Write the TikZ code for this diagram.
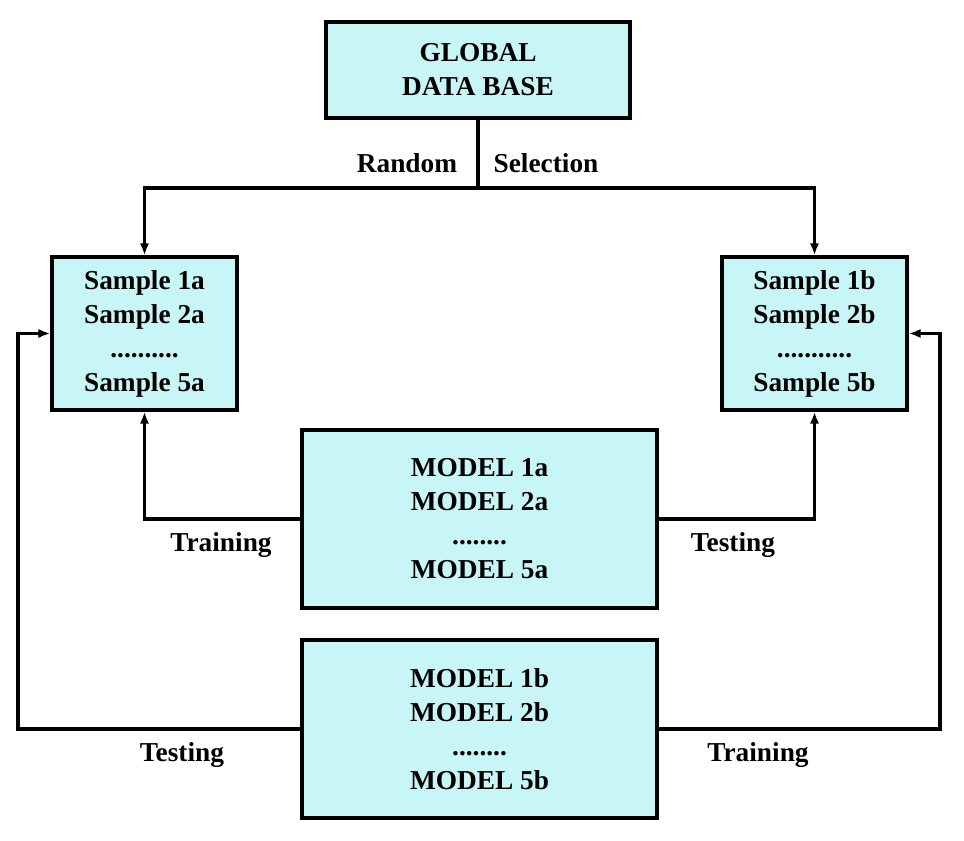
\documentclass[tikz,border=0pt]{standalone}
\usepackage{fontspec}
\setmainfont{Liberation Serif}
\usetikzlibrary{arrows.meta}
\definecolor{boxfill}{RGB}{200,245,245}
\begin{document}
\begin{tikzpicture}[x=0.75pt,y=-0.75pt,
  box/.style={draw,line width=2.6pt,fill=boxfill,inner sep=0pt,align=center,font=\fontsize{20.5}{25.5}\selectfont\bfseries},
  lbl/.style={font=\fontsize{20.5}{24}\selectfont\bfseries},
  conn/.style={line width=2.4pt,-{Latex[length=9pt,width=7pt]}},
  line/.style={line width=2.4pt}]
\useasboundingbox (0,0) rectangle (964,841);
\node[box,minimum width=304*0.75pt,minimum height=96*0.75pt] (g) at (478,70) {GLOBAL\\DATA BASE};
\node[box,minimum width=185*0.75pt,minimum height=153*0.75pt] (sa) at (144.5,333.5) {Sample 1a\\Sample 2a\\..........\\Sample 5a};
\node[box,minimum width=185*0.75pt,minimum height=153*0.75pt] (sb) at (814.5,333.5) {Sample 1b\\Sample 2b\\...........\\Sample 5b};
\node[box,minimum width=355*0.75pt,minimum height=178*0.75pt] (ma) at (479.5,519) {MODEL 1a\\MODEL 2a\\........\\MODEL 5a};
\node[box,minimum width=355*0.75pt,minimum height=178*0.75pt] (mb) at (479.5,729) {MODEL 1b\\MODEL 2b\\........\\MODEL 5b};
\coordinate (j) at (478,188);
\draw[line] (g.south) -- (j);
\draw[conn] (j) -| (sa.north);
\draw[conn] (j) -| (sb.north);
\draw[conn] (ma.west) -| (sa.south);
\draw[conn] (ma.east) -| (sb.south);
\draw[conn] (mb.west) -- (18,729) |- (sa.west);
\draw[conn] (mb.east) -- (940,729) |- (sb.east);
\node[lbl] (l1) at (407,163) {Random};
\node[lbl] (l2) at (546,163) {Selection};
\node[lbl] (l3) at (221,545) {Training};
\node[lbl] (l4) at (733,545) {Testing};
\node[lbl] (l5) at (182,755) {Testing};
\node[lbl] (l6) at (758,755) {Training};
\end{tikzpicture}
\end{document}
